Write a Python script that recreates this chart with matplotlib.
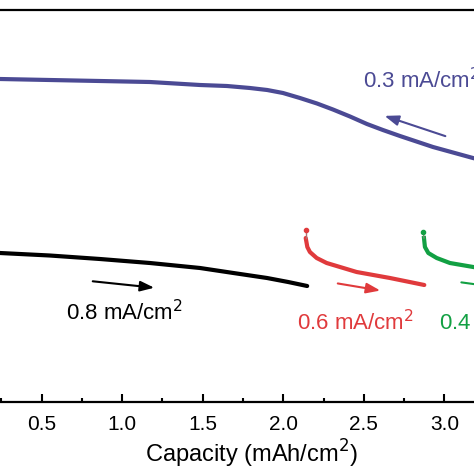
import numpy as np
import matplotlib.pyplot as plt

plt.rcParams['font.family'] = ['Liberation Sans', 'DejaVu Sans']

# curves (y in arbitrary units, bottom spine = 0)
blue_x = [0.0, 0.241, 0.55, 0.862, 1.172, 1.483, 1.65, 1.793, 1.90, 1.998, 2.103, 2.209, 2.308,
          2.414, 2.519, 2.618, 2.724, 2.929, 3.177, 3.35]
blue_y = [3.24, 3.23, 3.22, 3.21, 3.20, 3.17, 3.16, 3.14, 3.12, 3.09, 3.04, 2.985, 2.925,
          2.855, 2.78, 2.72, 2.66, 2.55, 2.44, 2.37]

black_x = [0.0, 0.241, 0.55, 0.862, 1.172, 1.483, 1.69, 1.899, 2.03, 2.148]
black_y = [1.51, 1.49, 1.465, 1.43, 1.39, 1.34, 1.29, 1.24, 1.20, 1.16]

red_x = [2.139, 2.149, 2.165, 2.207, 2.269, 2.455, 2.662, 2.875]
red_y = [1.64, 1.55, 1.50, 1.44, 1.39, 1.30, 1.24, 1.17]
red_dot = (2.139, 1.72)

green_x = [2.873, 2.879, 2.900, 2.952, 3.034, 3.179, 3.35]
green_y = [1.64, 1.55, 1.49, 1.44, 1.39, 1.35, 1.30]
green_dot = (2.869, 1.70)

c_blue = '#4b4a94'
c_red = '#e03a3c'
c_green = '#12a043'
c_black = '#000000'

fig = plt.figure(figsize=(4.74, 4.74), dpi=100)
ax = fig.add_axes([-38.9 / 474, 72 / 474, 580 / 474, 392 / 474])

ax.plot(blue_x, blue_y, color=c_blue, lw=3, solid_joinstyle='round')
ax.plot(black_x, black_y, color=c_black, lw=3, solid_joinstyle='round', solid_capstyle='round')
ax.plot(red_x, red_y, color=c_red, lw=3, solid_capstyle='round', solid_joinstyle='round')
ax.plot([red_dot[0], red_x[0]], [red_dot[1], red_y[0]], color='#b07070', lw=1)
ax.plot(*red_dot, 'o', color=c_red, ms=3)
ax.plot(green_x, green_y, color=c_green, lw=3, solid_joinstyle='round')
ax.plot([green_dot[0], green_x[0]], [green_dot[1], green_y[0]], color='#709070', lw=1)
ax.plot(*green_dot, 'o', color=c_green, ms=3)

arrow = dict(arrowstyle='-|>,head_length=0.6,head_width=0.22', lw=1.5, mutation_scale=14)
ax.annotate('', xy=(2.612, 2.87), xytext=(3.022, 2.65), arrowprops=dict(arrow, color=c_blue))
ax.annotate('', xy=(1.216, 1.14), xytext=(0.800, 1.21), arrowprops=dict(arrow, color=c_black))
ax.annotate('', xy=(2.619, 1.11), xytext=(2.321, 1.19), arrowprops=dict(arrow, color=c_red))
ax.annotate('', xy=(3.45, 1.12), xytext=(3.088, 1.20), arrowprops=dict(arrow, color=c_green))

ax.text(2.496, 3.21, '0.3 mA/cm$^2$', color=c_blue, fontsize=16, va='center')
ax.text(0.651, 0.89, '0.8 mA/cm$^2$', color=c_black, fontsize=16, va='center')
ax.text(2.086, 0.79, '0.6 mA/cm$^2$', color=c_red, fontsize=16, va='center')
ax.text(2.968, 0.79, '0.4 mA/cm$^2$', color=c_green, fontsize=16, va='center')

ax.set_xlim(0, 3.6)
ax.set_ylim(0, 3.92)
ax.set_xticks([0.0, 0.5, 1.0, 1.5, 2.0, 2.5, 3.0, 3.5])
ax.set_xticks(np.arange(0, 3.6, 0.25), minor=True)
ax.set_yticks([])
ax.tick_params(axis='x', which='major', direction='in', length=6, width=1.5,
               labelsize=15, pad=9, top=False)
ax.tick_params(axis='x', which='minor', direction='in', length=3, width=1.5, top=False)
for s in ax.spines.values():
    s.set_linewidth(1.6)
ax.set_xlabel('Capacity (mAh/cm$^2$)', fontsize=17, labelpad=3)

fig.savefig('out.png', dpi=100)
